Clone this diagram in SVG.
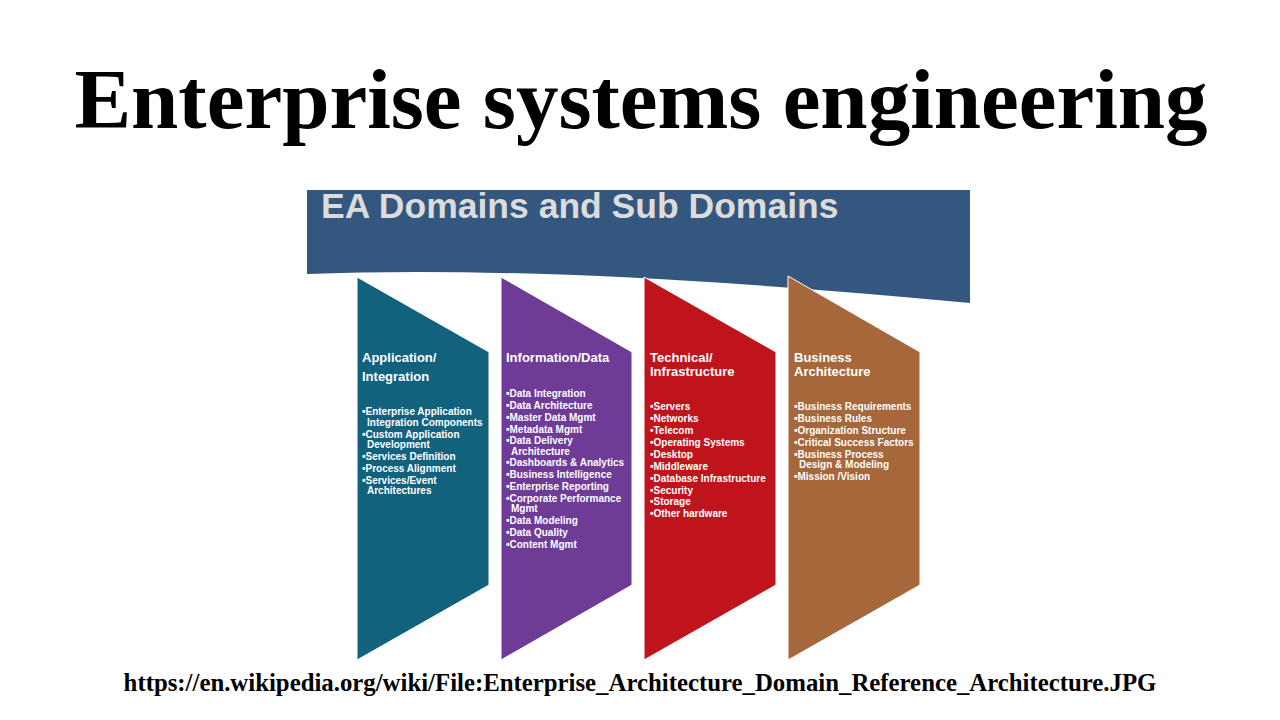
<svg xmlns="http://www.w3.org/2000/svg" width="1280" height="720" viewBox="0 0 1280 720">
<style>
.title{font-family:"Liberation Serif","Times New Roman",serif;font-weight:bold;fill:#000}
.hdr{font-family:"Liberation Sans",Arial,sans-serif;font-weight:bold;font-size:13px;fill:#fff}
.bl{font-family:"Liberation Sans",Arial,sans-serif;font-weight:bold;font-size:10px;fill:#fff}
.panel{stroke:#fff;stroke-width:1}
</style>
<rect width="1280" height="720" fill="#fff"/>
<text class="title" x="641" y="128" font-size="85" text-anchor="middle">Enterprise systems engineering</text>
<g id="banner">
<path d="M307,190 H970 V303 Q560,264 307,274 Z" fill="#34577f"/>
<text x="321" y="218" font-family="Liberation Sans,Arial,sans-serif" font-weight="bold" font-size="35.5" fill="#dcdcdc">EA Domains and Sub Domains</text>
</g>
<g id="connectors"></g>
<g id="app">
<path class="panel" d="M357,277 L489,352 V585 L357,660 Z" fill="#12627e"/>
<text class="hdr" x="362" y="362">Application/</text>
<text class="hdr" x="362" y="381">Integration</text>
<text class="bl" x="362" y="415">•Enterprise Application</text>
<text class="bl" x="367" y="426">Integration Components</text>
<text class="bl" x="362" y="438">•Custom Application</text>
<text class="bl" x="367" y="448">Development</text>
<text class="bl" x="362" y="460">•Services Definition</text>
<text class="bl" x="362" y="472">•Process Alignment</text>
<text class="bl" x="362" y="484">•Services/Event</text>
<text class="bl" x="367" y="494">Architectures</text>
</g>
<g id="info">
<path class="panel" d="M501,277 L632,352 V585 L501,660 Z" fill="#6e3b96"/>
<text class="hdr" x="506" y="362">Information/Data</text>
<text class="bl" x="506" y="397">•Data Integration</text>
<text class="bl" x="506" y="409">•Data Architecture</text>
<text class="bl" x="506" y="421">•Master Data Mgmt</text>
<text class="bl" x="506" y="433">•Metadata Mgmt</text>
<text class="bl" x="506" y="444">•Data Delivery</text>
<text class="bl" x="511" y="455">Architecture</text>
<text class="bl" x="506" y="466">•Dashboards &amp; Analytics</text>
<text class="bl" x="506" y="478">•Business Intelligence</text>
<text class="bl" x="506" y="490">•Enterprise Reporting</text>
<text class="bl" x="506" y="502">•Corporate Performance</text>
<text class="bl" x="511" y="512">Mgmt</text>
<text class="bl" x="506" y="524">•Data Modeling</text>
<text class="bl" x="506" y="536">•Data Quality</text>
<text class="bl" x="506" y="548">•Content Mgmt</text>
</g>
<g id="tech">
<path class="panel" d="M644,277 L776,352 V585 L644,660 Z" fill="#c0141c"/>
<text class="hdr" x="650" y="362">Technical/</text>
<text class="hdr" x="650" y="376">Infrastructure</text>
<text class="bl" x="650" y="410">•Servers</text>
<text class="bl" x="650" y="422">•Networks</text>
<text class="bl" x="650" y="434">•Telecom</text>
<text class="bl" x="650" y="446">•Operating Systems</text>
<text class="bl" x="650" y="458">•Desktop</text>
<text class="bl" x="650" y="470">•Middleware</text>
<text class="bl" x="650" y="482">•Database Infrastructure</text>
<text class="bl" x="650" y="494">•Security</text>
<text class="bl" x="650" y="505">•Storage</text>
<text class="bl" x="650" y="517">•Other hardware</text>
</g>
<g id="business">
<path class="panel" d="M788,276 L920,352 V585 L788,660 Z" fill="#a6673a"/>
<text class="hdr" x="794" y="362">Business</text>
<text class="hdr" x="794" y="376">Architecture</text>
<text class="bl" x="794" y="410">•Business Requirements</text>
<text class="bl" x="794" y="422">•Business Rules</text>
<text class="bl" x="794" y="434">•Organization Structure</text>
<text class="bl" x="794" y="446">•Critical Success Factors</text>
<text class="bl" x="794" y="458">•Business Process</text>
<text class="bl" x="799" y="468">Design &amp; Modeling</text>
<text class="bl" x="794" y="480">•Mission /Vision</text>
</g>
<text class="title" x="640" y="691" font-size="24.8" text-anchor="middle">https://en.wikipedia.org/wiki/File:Enterprise_Architecture_Domain_Reference_Architecture.JPG</text>
</svg>
